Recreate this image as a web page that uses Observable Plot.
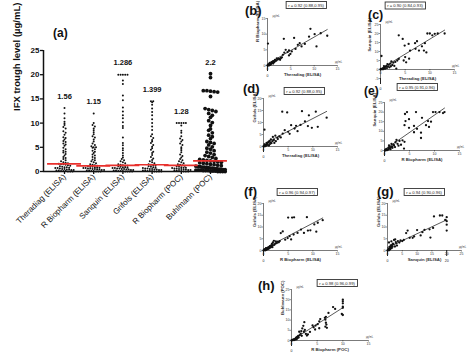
<!DOCTYPE html>
<html><head><meta charset="utf-8">
<script src="https://cdn.jsdelivr.net/npm/d3@7"></script>
<script src="https://cdn.jsdelivr.net/npm/@observablehq/plot@0.6"></script>
<style>
body{margin:0;background:#fff;}
#root{position:relative;width:474px;height:354px;overflow:hidden;font-family:"Liberation Sans",Arial,sans-serif;}
.panel{position:absolute;}
.panel svg{overflow:visible;}
#overlay{position:absolute;left:0;top:0;pointer-events:none;}
</style></head><body><div id="root"></div>
<script>
const FONT = "Liberation Sans, Arial, sans-serif";
// ---------- panel (a) data ----------
const groups = ["Theradiag (ELISA)", "R Biopharm (ELISA)", "Sanquin (ELISA)", "Grifols (ELISA)", "R Biopharm (POC)", "Buhlmann (POC)"];
const medians = [1.56, 1.15, 1.286, 1.399, 1.28, 2.2];
const medianLabels = ["1.56", "1.15", "1.286", "1.399", "1.28", "2.2"];
const yTicksA = [0, 5, 10, 15, 20, 25];
const yLabelA = "IFX trough level (µg/mL)";
const theradiag = [13.1,12.0,11.0,10.3,9.9,9.6,9.2,8.9,8.3,8.0,7.6,7.1,6.9,6.6,6.3,6.1,5.8,5.6,5.3,4.9,4.6,4.3,4.1,3.9,3.6,3.3,3.0,2.8,2.6,2.3,2.1,1.9,1.8,1.7,1.6,1.5,1.5,1.4,1.3,1.2,1.1,1.0,0.9,0.9,0.8,0.7,0.7,0.6,0.5,0.5,0.4,0.4,0.3,0.3,0.2,0.2,0.1,0.1,0.1,0,0,0];
const rbioElisa = [12.0,10.0,9.6,9.3,8.9,8.5,8.1,7.7,7.3,7.0,6.6,6.2,5.8,5.5,5.2,5.0,5.0,4.9,4.6,4.3,4.1,3.8,3.5,3.3,3.0,2.8,2.5,2.3,2.1,1.9,1.7,1.5,1.4,1.3,1.2,1.1,1.0,1.0,0.9,0.8,0.8,0.7,0.7,0.6,0.6,0.5,0.5,0.4,0.4,0.3,0.3,0.2,0.2,0.1,0.1,0,0,0];
const sanquin = [20,20,20,20,20,18.8,18.1,15.7,14.7,13.2,12.4,11.6,11.0,10.2,9.4,9.0,7.0,5.9,5.4,4.8,4.4,3.8,3.3,2.9,2.6,2.3,2.1,1.9,1.7,1.5,1.4,1.3,1.2,1.1,1.0,0.9,0.8,0.7,0.7,0.6,0.5,0.5,0.4,0.4,0.3,0.3,0.2,0.2,0.1,0.1,0.1,0,0,0,0,0.6,0.9,1.2];
const grifols = [14.5,14.5,14.3,13.8,13.0,12.3,11.6,10.8,10.0,9.3,8.6,7.7,7.3,6.9,6.5,6.2,5.9,5.5,5.1,4.8,4.5,4.1,3.8,3.4,3.0,2.7,2.4,2.1,1.9,1.7,1.5,1.4,1.3,1.2,1.1,1.0,0.9,0.8,0.7,0.6,0.6,0.5,0.5,0.4,0.4,0.3,0.3,0.2,0.2,0.1,0.1,0.1,0,0,0,0];
const rbioPoc = [10,10,10,10,10,9.5,8.4,8.0,7.3,6.8,6.5,6.2,5.8,5.5,5.0,4.7,4.4,4.0,3.5,3.2,2.9,2.6,2.3,2.1,1.9,1.7,1.5,1.4,1.3,1.2,1.1,1.0,0.9,0.8,0.8,0.7,0.6,0.6,0.5,0.5,0.4,0.4,0.3,0.3,0.2,0.2,0.1,0.1,0,0,0];
const buhlmann = [20.2,19.4,16.7,16.7,16.6,16.5,16.4,15.5,13.0,12.8,12.6,12.4,12.0,11.6,11.2,10.5,10.1,9.5,8.8,8.5,8.0,7.5,7.2,6.8,6.2,6.0,5.8,5.5,5.1,4.8,4.6,4.3,4.0,3.8,3.5,3.3,3.1,2.9,2.7,2.5,2.4,2.3,2.2,2.1,2.0,1.9,1.8,1.7,1.6,1.5,1.4,1.3,1.2,1.1,1.0,1.0,0.9,0.9,0.8,0.8,0.7,0.7,0.6,0.6,0.5,0.5,0.4,0.4,0.3,0.3,0.3,0.2,0.2,0.2,0.1,0.1,0.1,0,0,0,0];
const groupValues = [theradiag, rbioElisa, sanquin, grifols, rbioPoc, buhlmann];

// ---------- scatter panels data ----------
const ptsB = [[0.1,7],[3.5,8.5],[5.7,8.8],[9.2,11.7],[8.9,9.2],[10.1,10],[11.4,10.3],[12.8,9.5],[10.5,6.1],[6.9,7.1],[6.5,6.6],[7.3,6.1],[8,6.9],[6,5.3],[4.6,4.8],[3.9,5],[4.3,4.3],[4.9,3.7],[4.6,3.2],[5.2,4.5],[2.9,2.4],[2.6,2.1],[2,2.3],[1.6,1.8],[1.3,1.4],[0.9,1.1],[0.5,0.8],[0.2,0.3],[0,0],[0.1,0.1],[0.3,0.2],[0.4,0.5],[0.6,0.4],[0.8,0.7],[1,0.9],[1.1,1.2],[1.4,1],[1.7,1.5],[1.9,1.6],[2.2,1.9],[2.4,2.2],[3.1,2.6],[0.7,0.3],[1.2,0.6],[0.3,0],[0.5,0.2],[1.5,1.2],[2.7,1.8],[3.3,3.4],[3.6,4.1]];
const ptsC = [[0.2,7.5],[3.7,19],[4.5,17],[4.9,13.3],[5.7,14.2],[6,10.5],[5,6.9],[4.7,5],[5.2,4],[5.8,6],[7,14.6],[7.4,15.7],[7.1,11.5],[7.8,10.5],[8.4,12.9],[9,14.6],[9.5,20],[10,20],[10.5,19],[11,19.8],[11.6,20],[13,20],[8.8,10.5],[9.3,9.5],[3.7,5.9],[3.4,5],[3,4.2],[2.6,3.8],[2.2,4.5],[1.7,2.6],[1.4,3],[1.2,2],[1,1.5],[0.8,1.2],[0.6,0.8],[0.4,0.5],[0.2,0.2],[0,0],[0.1,0.3],[0.5,0.1],[0.9,0.4],[1.3,0.8],[1.8,1.2],[2.1,1.8],[2.4,2.5],[2.8,2],[3.2,0.5],[1.5,1.6],[0.7,1.9],[2,3.3]];
const ptsD = [[0.2,7],[3.8,14.5],[4.8,14.2],[7.8,14.7],[10.6,14.5],[9.2,13],[12.8,12],[11,8.2],[9,8.5],[9.8,7.8],[6.6,8.6],[5.6,8.9],[6.3,7.5],[6.9,6.4],[5,6.1],[4.3,6.8],[3.9,5.4],[5.3,5.3],[7.5,9],[8.4,10.5],[2.4,4.5],[1.9,4],[2.8,3.6],[3.2,4.2],[1.5,3],[1.2,2.3],[1,1.8],[0.8,1.2],[0.6,0.9],[0.4,0.5],[0.2,0.2],[0,0],[0.1,0.4],[0.3,0.1],[0.5,0.3],[0.9,0.6],[1.3,1],[1.6,1.4],[1.8,2.2],[2.1,2.7],[2.5,2.2],[0.7,1.5],[1.1,0.4],[1.4,1.7],[2.9,3.1],[3.5,3.8],[0.3,0.8],[2.2,1.5]];
const ptsE = [[4.5,20],[6.3,20],[4.1,19],[4.9,16.3],[4.2,15.3],[4,13.2],[4.9,11.8],[5.9,12.8],[6.5,11.3],[5.9,9.5],[7.3,9.3],[7.3,6.5],[8.3,13.2],[8.7,15.3],[9.3,15],[8.9,12.3],[9.7,20],[10.2,20],[11,20],[11.7,19.5],[12,20],[7.5,17],[3.6,5.3],[4,4.5],[3,5],[2.4,5.5],[2.6,3.5],[2.2,4.3],[1.8,3],[1.5,2.2],[1.3,1.7],[1.1,1.2],[0.9,0.9],[0.7,0.6],[0.5,0.3],[0.3,0.1],[0.1,0],[0.2,0.4],[0.4,0.8],[0.6,0.2],[0.8,1.5],[1,2],[1.2,0.7],[1.6,1.4],[1.9,2.6],[2.1,1.8],[2.8,2.5],[3.3,3],[1.4,3.4],[0.9,2.7],[3.9,1]];
const ptsF = [[5,14],[5.8,14],[6.2,14.1],[8.8,14.2],[10.3,11.1],[11,11.8],[12,12.9],[10.7,8],[9.5,8.6],[9,8.5],[7.6,8.9],[8.2,7.5],[6.9,7.5],[6.1,6.8],[5.3,6.1],[5.6,4.7],[4.9,5.3],[3.9,8.1],[3.5,7.4],[4.4,4.6],[3.3,4],[2.9,3.8],[2.5,3.9],[2.1,4.1],[1.9,3.4],[1.7,2.8],[1.5,2.1],[1.3,1.8],[1.1,1.4],[0.9,1.1],[0.7,0.8],[0.5,0.5],[0.3,0.3],[0.1,0.1],[0,0],[0.2,0.5],[0.4,0.1],[0.6,0.3],[0.8,0.6],[1,0.7],[1.2,1],[1.4,1.3],[1.6,1.6],[1.8,1.4],[2.2,2.4],[2.7,3.2],[3.1,3.5],[0.5,1],[2.4,2.9],[1.9,2.2]];
const ptsG = [[15.7,14.5],[17.7,14.9],[18.5,14.9],[20,14.2],[20,12.5],[20,11],[20,8.5],[19.5,13],[15.4,9.6],[14.2,9],[14.5,5.5],[11.2,6.4],[11.8,7.8],[10,8.7],[8.5,5.4],[6.8,8.5],[6.3,7.4],[7.5,5.4],[5.5,4.5],[4.4,4.3],[3.2,2.1],[3.5,4],[2.8,3.6],[2.2,4.5],[1.8,2.9],[1.5,2.3],[1.2,1.8],[1,1.3],[0.8,1],[0.6,0.7],[0.4,0.4],[0.2,0.2],[0,0],[0.3,0.6],[0.5,0.1],[0.7,1.5],[0.9,0.5],[1.1,2.2],[1.4,1],[1.7,1.6],[2,2.7],[2.5,1.7],[3,3],[4,3.4],[5,4],[12.5,8.8],[9,6],[2.6,4.7],[0.5,3.4],[1.3,3.9]];
const ptsH = [[10,20],[10,19.2],[10,18.2],[10,16.6],[10,16],[9.8,13],[10,12.5],[8.1,16.4],[8.5,15.5],[7.2,13.5],[6.5,11.1],[6.7,11.6],[6.6,10.2],[6.7,8.7],[6.8,7.8],[6.6,6.8],[6.9,6.2],[5.4,9.4],[5.6,10.5],[5.1,8],[4.7,7.3],[5.4,6],[4.1,7.4],[4.3,6.5],[4.6,5.4],[2.5,9],[2.3,7.2],[2.1,5.9],[2.4,4.3],[2.6,5.2],[1.9,4.6],[1.5,4.3],[1.8,3.4],[1.6,2.6],[1.3,2.2],[1.1,1.8],[0.9,1.4],[0.8,1],[0.6,0.7],[0.4,0.5],[0.2,0.3],[0,0],[0.1,0.1],[0.3,0.2],[0.5,0.2],[0.7,0.4],[1,0.6],[1.2,1.2],[1.4,1.5],[2,2.3],[2.8,3.2],[3.2,3],[3.6,4.2],[3,2.4]];
const rTexts = ["r = 0.92 (0.88,0.95)", "r = 0.90 (0.84,0.93)", "r = 0.92 (0.88,0.95)", "r = 0.95 (0.91,0.96)", "r = 0.96 (0.94,0.97)", "r = 0.94 (0.90,0.96)", "r = 0.98 (0.96,0.99)"];
const letters = ["(a)", "(b)", "(c)", "(d)", "(e)", "(f)", "(g)", "(h)"];
const ticks15 = [0, 5, 10, 15], ticks20 = [0, 5, 10, 15, 20], ticks25 = [0, 5, 10, 15, 20, 25], ticksM5 = [-5, 0, 5, 10, 15, 20, 25];

const root = document.getElementById("root");
function place(node, L, T) {
  const d = document.createElement("div");
  d.className = "panel"; d.style.left = L + "px"; d.style.top = T + "px";
  d.appendChild(node); root.appendChild(d);
}

// ---------- panel (a) ----------
const A = {L: 0, T: 0, W: 240, H: 354, x0: 43, x1: 227, yTop: 50, yBot: 171, c0: 64, c5: 210};
const pxPerX = (A.c5 - A.c0) / 5;
const pxPerY = (A.yBot - A.yTop) / 25;
const xDomA = [-(A.c0 - A.x0) / pxPerX, 5 + (A.x1 - A.c5) / pxPerX];
function swarm(values, gi, diamPx, maxW) {
  const sorted = values.slice().sort((a, b) => b - a);
  const bins = d3.group(sorted, v => Math.round(v * pxPerY / diamPx));
  const out = [];
  for (const [, arr] of bins) {
    const n = arr.length;
    let step = diamPx / pxPerX;
    if (n > 1 && (n - 1) * step > maxW) step = maxW / (n - 1);
    arr.forEach((v, j) => out.push({x: gi + (j - (n - 1) / 2) * step, y: v}));
  }
  return out;
}
const small = groupValues.slice(0, 5).flatMap((vals, i) => swarm(vals, i, 2.3, 0.95));
const big = swarm(buhlmann, 5, 3.6, 1.0);
const medRows = medians.map((m, i) => ({i, m}));
const labRows = groupValues.map((vals, i) => ({i, top: d3.max(vals) + 2.4, label: medianLabels[i]}));

const plotA = Plot.plot({
  width: A.W, height: A.H,
  marginLeft: A.x0, marginRight: A.W - A.x1, marginTop: A.yTop, marginBottom: A.H - A.yBot,
  x: {domain: xDomA}, y: {domain: [0, 25]},
  style: {fontFamily: FONT, fontSize: "8px", color: "#111", background: "transparent", overflow: "visible"},
  marks: [
    Plot.dot(small, {x: "x", y: "y", r: 1.0, fill: "#111"}),
    Plot.dot(big, {x: "x", y: "y", r: 1.9, fill: "#111"}),
    Plot.ruleY(medRows, {y: "m", x1: d => d.i - 0.58, x2: d => d.i + 0.58, stroke: "#e8302c", strokeWidth: 1.7}),
    Plot.ruleX([xDomA[0]], {stroke: "#111", strokeWidth: 1.5}),
    Plot.ruleY([0], {stroke: "#111", strokeWidth: 1.5}),
    Plot.axisY({ticks: yTicksA, tickSize: 3, tickPadding: 1, fontSize: 8, fontWeight: "bold", label: null, strokeWidth: 1.3, fill: "#111"}),
    Plot.axisX({ticks: [0, 1, 2, 3, 4, 5], tickFormat: i => groups[i], tickRotate: -45, tickSize: 3, tickPadding: 1, fontSize: 8, label: null, strokeWidth: 1.3, fill: "#111", stroke: "#111"}),
    Plot.text(labRows, {x: "i", y: "top", text: "label", fontWeight: "bold", fontSize: 7.5, fill: "#111"}),
    Plot.text([yLabelA], {frameAnchor: "left", rotate: -90, dx: -27, text: d => d, fontWeight: "bold", fontSize: 9.5, fill: "#111"})
  ]
});
place(plotA, A.L, A.T);

// ---------- scatter panels ----------
function scatter(c) {
  const yAt = c.yAt ?? c.yDomain[0];
  const kY = (c.y0 - c.y1) / (c.yDomain[1] - c.yDomain[0]);
  const tick = 1.5 / kY;
  const xMid = (c.xDomain[0] + c.xDomain[1]) / 2;
  return Plot.plot({
    width: c.W, height: c.H,
    marginLeft: c.x0 - c.L, marginRight: c.L + c.W - c.x1, marginTop: c.y1 - c.T, marginBottom: c.T + c.H - c.y0,
    x: {domain: c.xDomain}, y: {domain: c.yDomain},
    style: {fontFamily: FONT, fontSize: "3.5px", color: "#222", background: "transparent", overflow: "visible"},
    marks: [
      Plot.ruleY([yAt], {stroke: "#222", strokeWidth: 0.6}),
      Plot.ruleX([c.xDomain[0]], {stroke: "#222", strokeWidth: 0.6}),
      Plot.ruleX(c.xTicks, {x: d => d, y1: yAt, y2: yAt - tick, stroke: "#222", strokeWidth: 0.5}),
      Plot.text(c.xTicks, {x: d => d, y: yAt, dy: 3.4, text: d => String(d), fontSize: 3.5, fill: "#333"}),
      Plot.axisY({ticks: c.yTicks, tickSize: 1.5, tickPadding: 0.6, fontSize: 3.5, label: null, strokeWidth: 0.5, tickFormat: d => String(d), fill: "#333"}),
      Plot.dot(c.pts, {x: d => d[0], y: d => d[1], r: 1.15, fill: "#111"}),
      Plot.linearRegressionY(c.pts, {x: d => d[0], y: d => d[1], ci: 0, stroke: "#111", strokeWidth: 0.7}),
      Plot.text([c.xLabel], {x: xMid, y: yAt, dy: 9, text: d => d, fontSize: 4.3, fontWeight: "bold", fill: "#333"}),
      Plot.text([c.yLabel], {frameAnchor: "left", rotate: -90, dx: c.ylabDx ?? -9, text: d => d, fontSize: 4.3, fontWeight: "bold", fill: "#333"}),
      Plot.text(["µg/mL"], {frameAnchor: "top-left", dx: 5, dy: -3, text: d => d, fontSize: 2.6, fill: "#444"}),
      Plot.text(["µg/mL"], {x: c.xDomain[1], y: yAt, dx: 1, dy: -3.5, text: d => d, fontSize: 2.6, fill: "#444"})
    ]
  });
}
const panels = [
  {L: 240, T: 0, W: 115, H: 80, x0: 267, x1: 337, y0: 65, y1: 18, xDomain: [0, 15], yDomain: [0, 15], xTicks: ticks15, yTicks: ticks15, pts: ptsB, xLabel: "Theradiag (ELISA)", yLabel: "R Biopharm (ELISA)", ylabDx: -10},
  {L: 355, T: 0, W: 119, H: 82, x0: 380, x1: 454, y0: 78, y1: 24, xDomain: [0, 15], yDomain: [-5, 25], yAt: 0, xTicks: ticks15, yTicks: ticksM5, pts: ptsC, xLabel: "Theradiag (ELISA)", yLabel: "Sanquin (ELISA)", ylabDx: -11},
  {L: 240, T: 80, W: 115, H: 80, x0: 263, x1: 337, y0: 146, y1: 98, xDomain: [0, 15], yDomain: [0, 20], xTicks: ticks15, yTicks: ticks20, pts: ptsD, xLabel: "Theradiag (ELISA)", yLabel: "Grifols (ELISA)", ylabDx: -9},
  {L: 355, T: 82, W: 119, H: 86, x0: 384, x1: 459, y0: 150, y1: 102, xDomain: [0, 15], yDomain: [0, 25], xTicks: ticks15, yTicks: ticks25, pts: ptsE, xLabel: "R Biopharm (ELISA)", yLabel: "Sanquin (ELISA)", ylabDx: -10},
  {L: 240, T: 185, W: 115, H: 85, x0: 263, x1: 337, y0: 250, y1: 203, xDomain: [0, 15], yDomain: [0, 20], xTicks: ticks15, yTicks: ticks20, pts: ptsF, xLabel: "R Biopharm (ELISA)", yLabel: "Grifols (ELISA)", ylabDx: -9},
  {L: 355, T: 185, W: 119, H: 85, x0: 387, x1: 461, y0: 250, y1: 203, xDomain: [0, 25], yDomain: [0, 20], xTicks: ticks25, yTicks: ticks20, pts: ptsG, xLabel: "Sanquin (ELISA)", yLabel: "Grifols (ELISA)", ylabDx: -9},
  {L: 255, T: 270, W: 150, H: 84, x0: 291, x1: 368, y0: 340, y1: 289, xDomain: [0, 15], yDomain: [0, 25], xTicks: ticks15, yTicks: ticks25, pts: ptsH, xLabel: "R Biopharm (POC)", yLabel: "Buhlmann (POC)", ylabDx: -9}
];
panels.forEach(p => place(scatter(p), p.L, p.T));

// ---------- overlay: panel letters and r boxes ----------
const ov = d3.select(root).append("svg").attr("id", "overlay").attr("width", 474).attr("height", 354)
  .style("font-family", FONT);
const letterPos = [[53, 37, 12], [245, 15, 13], [368, 19, 12.5], [243, 93, 13], [364, 95, 12], [244, 196, 13], [377, 196, 13], [258, 290, 13]];
letters.forEach((t, i) => ov.append("text").attr("x", letterPos[i][0]).attr("y", letterPos[i][1])
  .attr("font-size", letterPos[i][2]).attr("font-weight", "bold").attr("fill", "#111").text(t));
const boxPos = [[306, 5], [405, 5.5], [304, 91], [417, 87], [297, 192], [424, 192], [337, 283]];
rTexts.forEach((t, i) => {
  const g = ov.append("g");
  const tx = g.append("text").attr("x", boxPos[i][0]).attr("y", boxPos[i][1]).attr("text-anchor", "middle")
    .attr("dominant-baseline", "central").attr("font-size", 4.2).attr("fill", "#222").text(t);
  const bb = tx.node().getBBox();
  g.insert("rect", "text").attr("x", bb.x - 2).attr("y", bb.y - 1).attr("width", bb.width + 4).attr("height", bb.height + 2)
    .attr("fill", "#fff").attr("stroke", "#333").attr("stroke-width", 0.9);
});
</script></body></html>
